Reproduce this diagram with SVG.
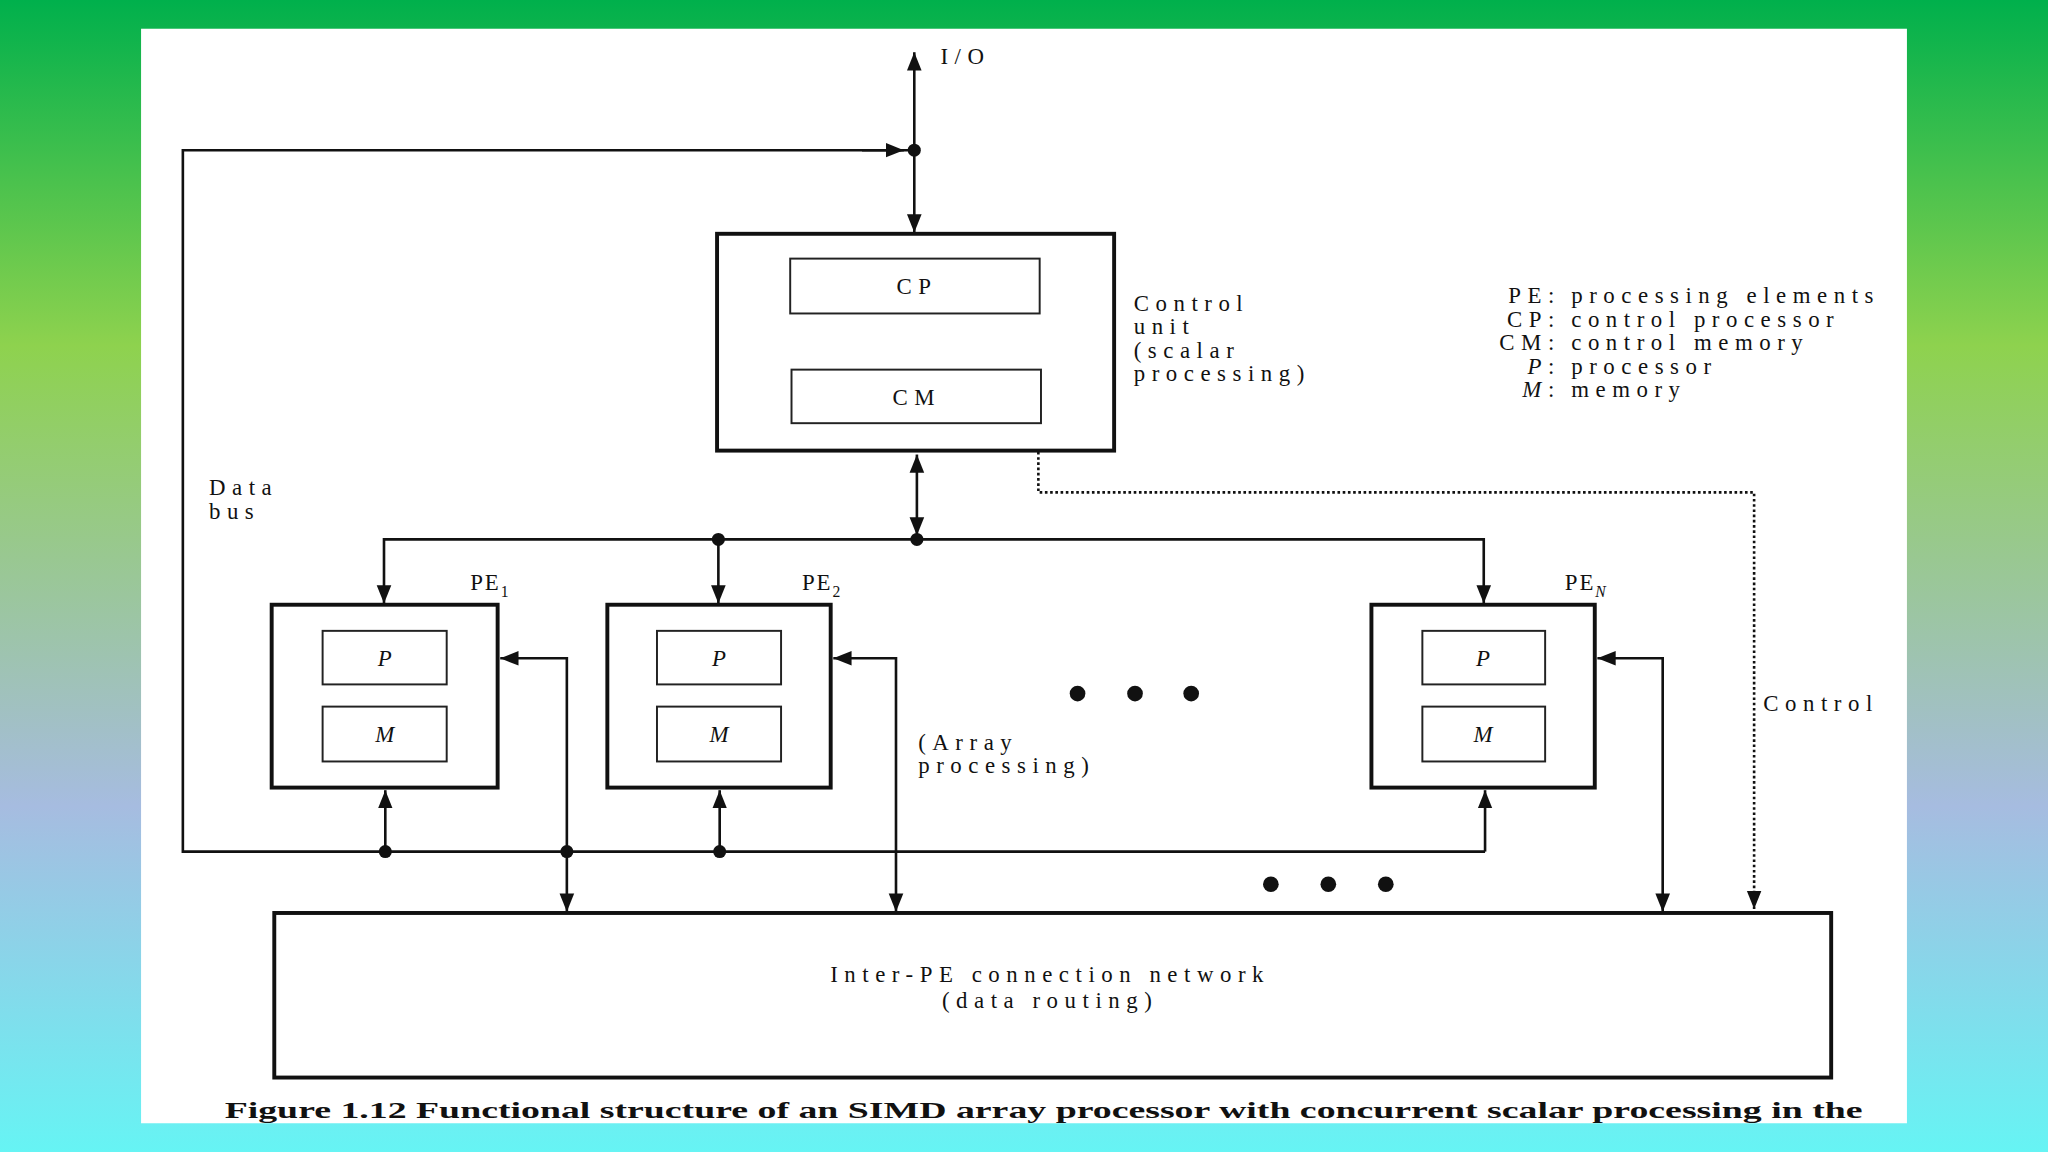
<svg xmlns="http://www.w3.org/2000/svg" width="2048" height="1152" viewBox="0 0 2048 1152">
<defs>
<linearGradient id="bg" x1="0" y1="0" x2="0" y2="1">
<stop offset="0" stop-color="#00b04c"/><stop offset="0.3" stop-color="#8ed24e"/><stop offset="0.7" stop-color="#a6bce0"/><stop offset="1" stop-color="#66f4f4"/>
</linearGradient>
<marker id="m" viewBox="0 0 10 10" refX="10" refY="5" markerWidth="14" markerHeight="14" orient="auto-start-reverse" markerUnits="userSpaceOnUse"><path d="M0,1 L10,5 L0,9 z" fill="#111"/></marker>
<style>
.t{font-family:"Liberation Serif",serif;font-size:17.5px;fill:#111;letter-spacing:5px}
.pe{letter-spacing:1.5px}
.cap{font-family:"Liberation Serif",serif;font-size:18px;font-weight:bold;fill:#111}
.i{font-style:italic}
.b{fill:none;stroke:#111;stroke-width:3}
.s{fill:none;stroke:#222;stroke-width:1.5}
.l{fill:none;stroke:#111;stroke-width:2}
.d{fill:#111}
</style>
</defs>
<rect width="2048" height="1152" fill="url(#bg)"/>
<g transform="scale(1.30612)">
<rect x="108" y="22" width="1352" height="838" fill="#fff"/>
<g id="connectors">
<path class="l" d="M700,115 V40" marker-end="url(#m)"/>
<path class="l" d="M700,115 V178" marker-end="url(#m)"/>
<path class="l" d="M700,115 H140 V652 H1137"/>
<path class="l" d="M660,115 H692" marker-end="url(#m)"/>
<circle class="d" cx="700" cy="115" r="5"/>
<path class="l" d="M702,348 V410" marker-start="url(#m)" marker-end="url(#m)"/>
<circle class="d" cx="702" cy="413" r="5"/>
<circle class="d" cx="550" cy="413" r="5"/>
<path class="l" d="M294,462 V413 H1136 V462" marker-start="url(#m)" marker-end="url(#m)"/>
<path class="l" d="M550,413 V462" marker-end="url(#m)"/>
<path class="l" d="M295,652 V605" marker-end="url(#m)"/>
<path class="l" d="M551,652 V605" marker-end="url(#m)"/>
<path class="l" d="M1137,652 V605" marker-end="url(#m)"/>
<circle class="d" cx="295" cy="652" r="5"/>
<circle class="d" cx="551" cy="652" r="5"/>
<circle class="d" cx="434" cy="652" r="5"/>
<path class="l" d="M434,698 V504 H383" marker-start="url(#m)" marker-end="url(#m)"/>
<path class="l" d="M686,698 V504 H638" marker-start="url(#m)" marker-end="url(#m)"/>
<path class="l" d="M1273,698 V504 H1223" marker-start="url(#m)" marker-end="url(#m)"/>
<path d="M795,346 V377 H1343 V696" fill="none" stroke="#111" stroke-width="2" stroke-dasharray="2,2" marker-end="url(#m)"/>
</g>
<g id="cu">
<rect class="b" x="549" y="179" width="304" height="166"/>
<rect class="s" x="605" y="198" width="191" height="42"/>
<text class="t" x="702" y="225" text-anchor="middle">CP</text>
<rect class="s" x="606" y="283" width="191" height="41"/>
<text class="t" x="702" y="310" text-anchor="middle">CM</text>
<text class="t" x="868" y="238">Control</text>
<text class="t" x="868" y="256">unit</text>
<text class="t" x="868" y="274">(scalar</text>
<text class="t" x="868" y="292">processing)</text>
</g>
<g id="pe1">
<rect class="b" x="208" y="463" width="173" height="140"/>
<rect class="s" x="247" y="483" width="95" height="41"/><text class="t i" x="297" y="510" text-anchor="middle">P</text>
<rect class="s" x="247" y="541" width="95" height="42"/><text class="t i" x="297" y="568" text-anchor="middle">M</text>
<text class="t pe" x="360" y="452">PE<tspan font-size="12" dy="5">1</tspan></text>
</g>
<g id="pe2">
<rect class="b" x="465" y="463" width="171" height="140"/>
<rect class="s" x="503" y="483" width="95" height="41"/><text class="t i" x="553" y="510" text-anchor="middle">P</text>
<rect class="s" x="503" y="541" width="95" height="42"/><text class="t i" x="553" y="568" text-anchor="middle">M</text>
<text class="t pe" x="614" y="452">PE<tspan font-size="12" dy="5">2</tspan></text>
</g>
<g id="pen">
<rect class="b" x="1050" y="463" width="171" height="140"/>
<rect class="s" x="1089" y="483" width="94" height="41"/><text class="t i" x="1138" y="510" text-anchor="middle">P</text>
<rect class="s" x="1089" y="541" width="94" height="42"/><text class="t i" x="1138" y="568" text-anchor="middle">M</text>
<text class="t pe" x="1198" y="452">PE<tspan class="i" font-size="12" dy="5">N</tspan></text>
</g>
<g id="net">
<rect class="b" x="210" y="699" width="1192" height="126"/>
<text class="t" x="804" y="752" text-anchor="middle">Inter-PE connection network</text>
<text class="t" x="804" y="772" text-anchor="middle">(data routing)</text>
</g>
<g id="labels">
<text class="t" x="720" y="49">I/O</text>
<text class="t" x="160" y="379">Data</text>
<text class="t" x="160" y="397">bus</text>
<text class="t" x="703" y="574">(Array</text>
<text class="t" x="703" y="592">processing)</text>
<text class="t" x="1350" y="544">Control</text>
<text class="t" x="1195" y="232" text-anchor="end">PE:</text><text class="t" x="1203" y="232">processing elements</text>
<text class="t" x="1195" y="250" text-anchor="end">CP:</text><text class="t" x="1203" y="250">control processor</text>
<text class="t" x="1195" y="268" text-anchor="end">CM:</text><text class="t" x="1203" y="268">control memory</text>
<text class="t" x="1195" y="286" text-anchor="end"><tspan class="i">P</tspan>:</text><text class="t" x="1203" y="286">processor</text>
<text class="t" x="1195" y="304" text-anchor="end"><tspan class="i">M</tspan>:</text><text class="t" x="1203" y="304">memory</text>
<circle class="d" cx="825" cy="531" r="6"/><circle class="d" cx="869" cy="531" r="6"/><circle class="d" cx="912" cy="531" r="6"/>
<circle class="d" cx="973" cy="677" r="6"/><circle class="d" cx="1017" cy="677" r="6"/><circle class="d" cx="1061" cy="677" r="6"/>
<text class="cap" x="172" y="856" textLength="1254" lengthAdjust="spacingAndGlyphs">Figure 1.12  Functional structure of an SIMD array processor with concurrent scalar processing in the</text>
</g>
</g>
</svg>
